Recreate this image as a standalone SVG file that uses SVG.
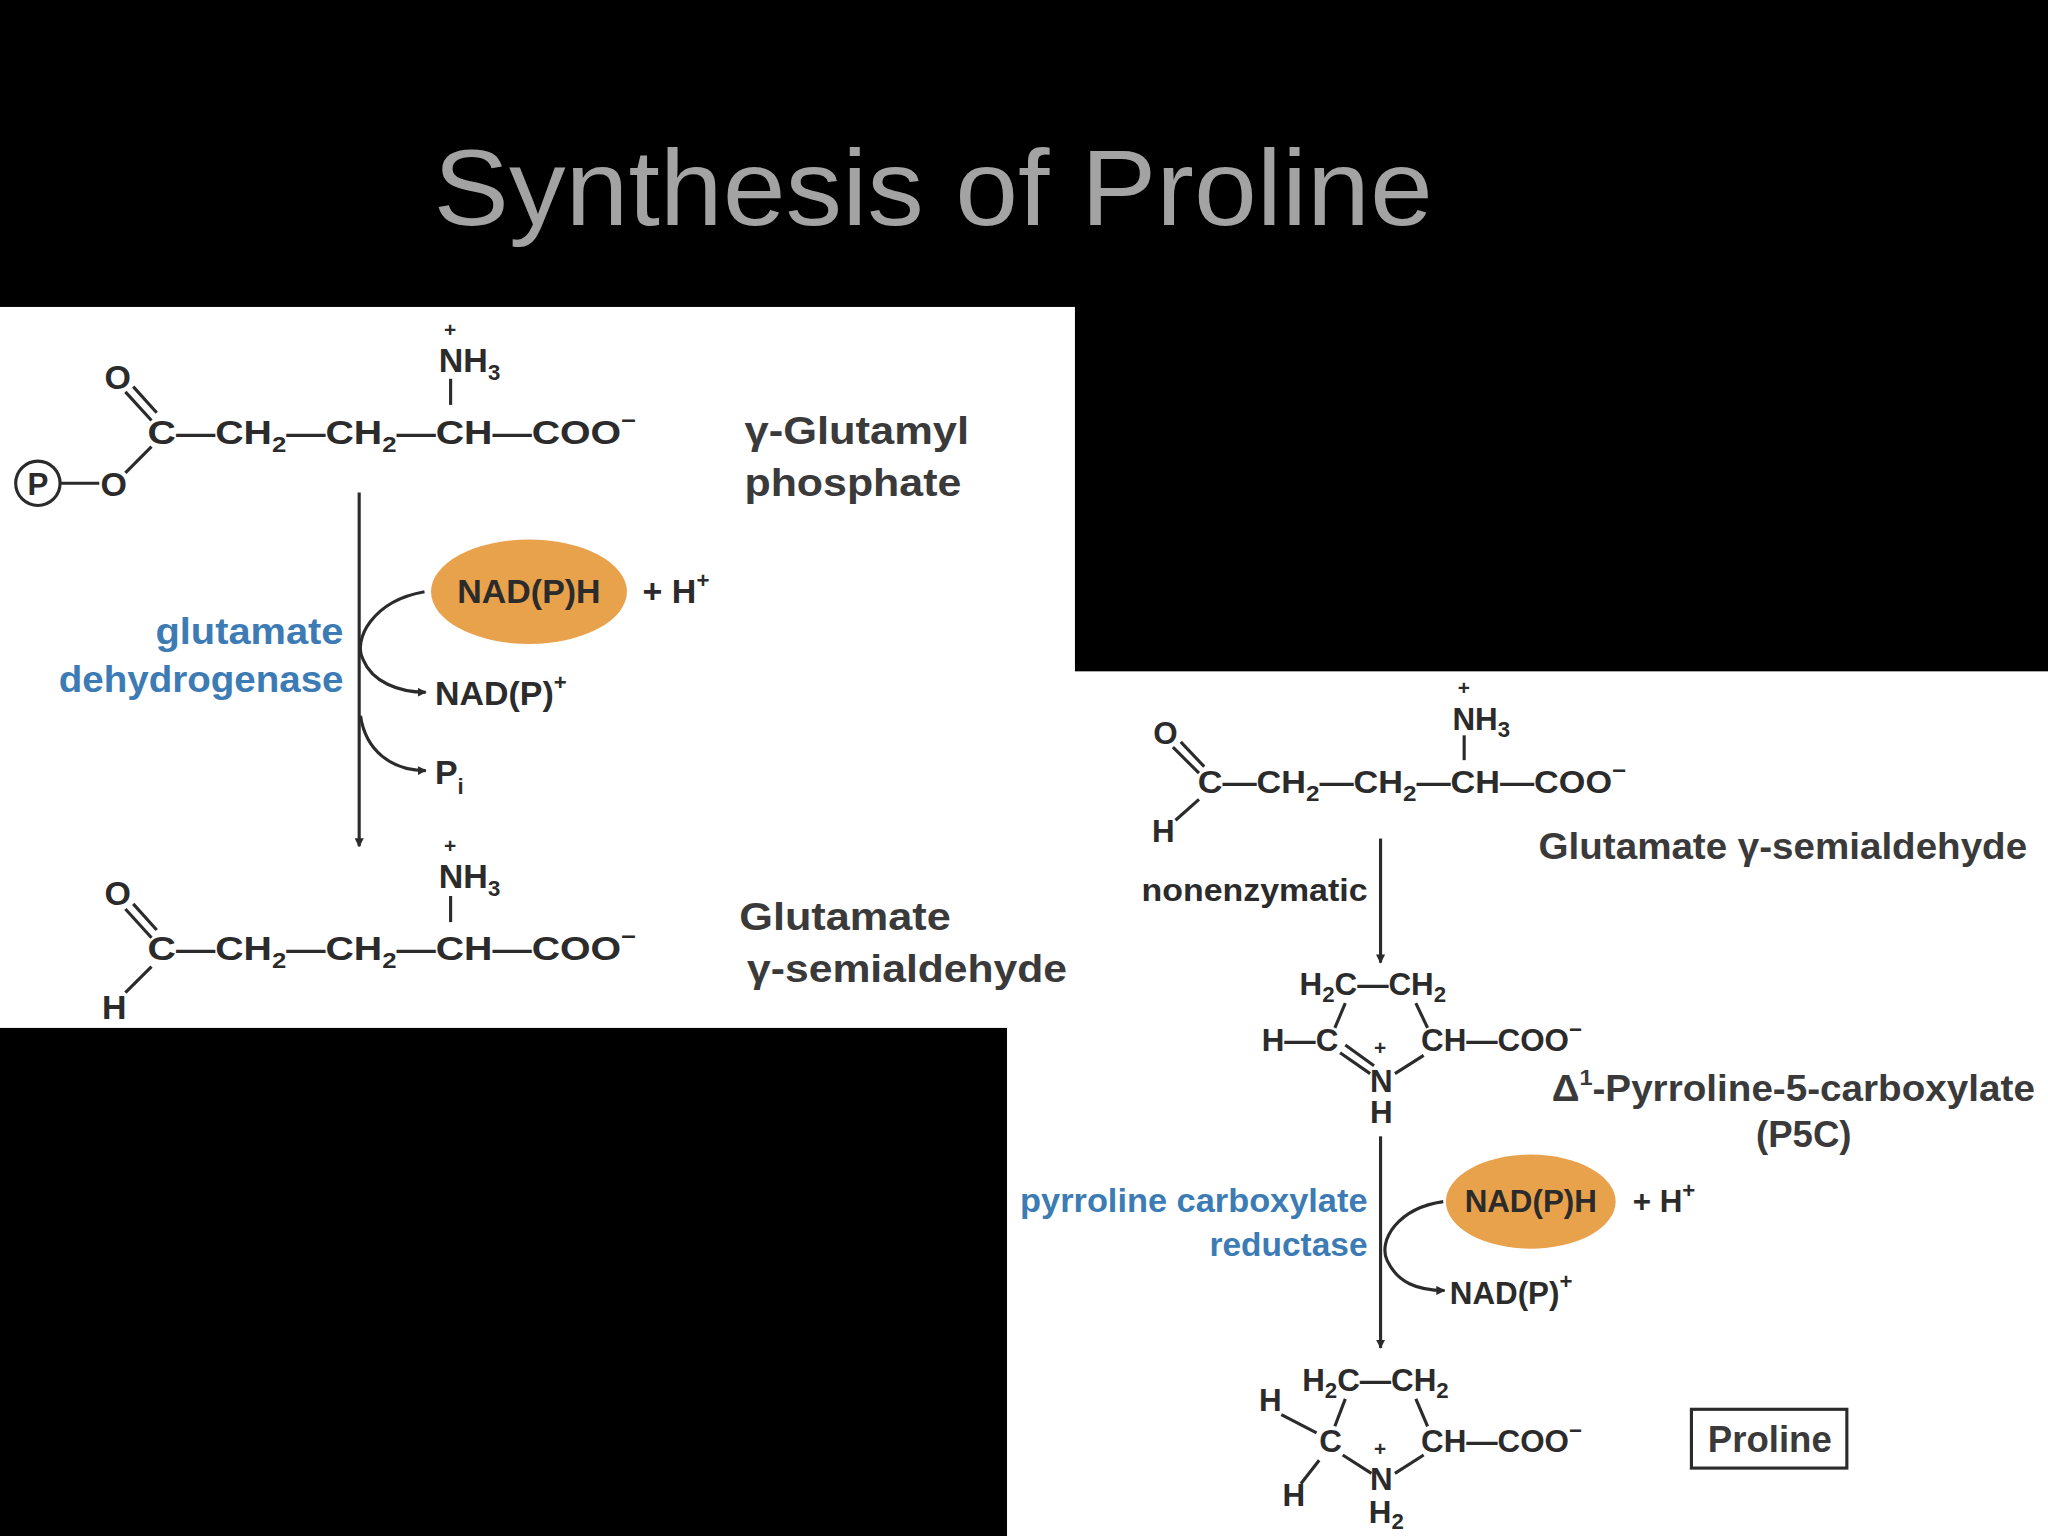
<svg xmlns="http://www.w3.org/2000/svg" width="2048" height="1536" viewBox="0 0 2048 1536">
<defs>
<style>
text{font-family:"Liberation Sans",Arial,sans-serif;font-weight:bold;fill:#2b2b2b}
.m{font-size:26px}
.s{font-size:24px}
.lab{font-size:30px;fill:#3a3a3a}
.blue{fill:#3d7bb5;font-size:28px}
.b{stroke:#2b2b2b;stroke-width:2.4;fill:none}
.sub{font-size:17px}
.pl{font-size:16px}
</style>
<marker id="ah" viewBox="0 0 10 10" refX="9" refY="5" markerWidth="7" markerHeight="7" orient="auto" markerUnits="userSpaceOnUse"><path d="M0,0L10,5L0,10z" fill="#2b2b2b"/></marker>
</defs>
<rect width="2048" height="1536" fill="#000"/>
<g transform="scale(1.30612)">
<text x="332" y="172" style="font-size:82px;font-weight:normal;fill:#a3a3a3" textLength="765" lengthAdjust="spacingAndGlyphs">Synthesis of Proline</text>
<rect x="0" y="235" width="823" height="552" fill="#fff"/>
<rect x="771" y="514" width="797" height="662" fill="#fff"/>

<g id="glutamyl-phosphate">
<text class="m" x="80" y="298">O</text>
<line class="b" x1="96" y1="300" x2="116" y2="322"/><line class="b" x1="102" y1="296" x2="120" y2="316"/>
<text class="m" x="113" y="340" textLength="374" lengthAdjust="spacingAndGlyphs">C—CH<tspan class="sub" dy="6">2</tspan><tspan dy="-6">—CH</tspan><tspan class="sub" dy="6">2</tspan><tspan dy="-6">—CH—COO</tspan><tspan class="sub" dy="-12">−</tspan></text>
<text class="pl" x="340" y="258">+</text>
<text class="m" x="336" y="285">NH<tspan class="sub" dy="6">3</tspan></text>
<line class="b" x1="345" y1="290" x2="345" y2="310"/>
<line class="b" x1="116" y1="342" x2="96" y2="362"/>
<circle cx="29" cy="370" r="17" class="b"/>
<text class="s" x="21" y="379">P</text>
<line class="b" x1="46" y1="370" x2="76" y2="370"/>
<text class="m" x="77" y="380">O</text>
<text class="lab" x="570" y="340" textLength="172" lengthAdjust="spacingAndGlyphs">γ-Glutamyl</text>
<text class="lab" x="570" y="380" textLength="166" lengthAdjust="spacingAndGlyphs">phosphate</text>
</g>

<g id="connectors">
<line class="b" x1="275" y1="377" x2="275" y2="648" marker-end="url(#ah)"/>
<path class="b" d="M325,453 C285,460 270,490 278,505 C285,522 305,530 326,530" marker-end="url(#ah)"/>
<path class="b" d="M276,548 C280,575 300,590 326,590" marker-end="url(#ah)"/>
<line class="b" x1="1057" y1="642" x2="1057" y2="737" marker-end="url(#ah)"/>
<line class="b" x1="1057" y1="870" x2="1057" y2="1032" marker-end="url(#ah)"/>
<path class="b" d="M1105,920 C1070,925 1055,950 1062,965 C1070,982 1085,988 1106,988" marker-end="url(#ah)"/>
</g>

<g id="glutamate-dehydrogenase">
<ellipse cx="405" cy="453" rx="75" ry="40" fill="#e9a24c"/>
<text class="m" x="405" y="462" text-anchor="middle">NAD(P)H</text>
<text class="m" x="492" y="462">+ H<tspan class="sub" dy="-12">+</tspan></text>
<text class="m" x="333" y="540">NAD(P)<tspan class="sub" dy="-12">+</tspan></text>
<text class="m" x="333" y="600">P<tspan class="sub" dy="8">i</tspan></text>
<text class="blue" x="263" y="493" text-anchor="end" textLength="144" lengthAdjust="spacingAndGlyphs">glutamate</text>
<text class="blue" x="263" y="530" text-anchor="end" textLength="218" lengthAdjust="spacingAndGlyphs">dehydrogenase</text>
</g>

<g id="glutamate-semialdehyde-left">
<text class="m" x="80" y="693">O</text>
<line class="b" x1="96" y1="696" x2="116" y2="718"/><line class="b" x1="102" y1="692" x2="120" y2="712"/>
<text class="m" x="113" y="735" textLength="374" lengthAdjust="spacingAndGlyphs">C—CH<tspan class="sub" dy="6">2</tspan><tspan dy="-6">—CH</tspan><tspan class="sub" dy="6">2</tspan><tspan dy="-6">—CH—COO</tspan><tspan class="sub" dy="-12">−</tspan></text>
<text class="pl" x="340" y="653">+</text>
<text class="m" x="336" y="680">NH<tspan class="sub" dy="6">3</tspan></text>
<line class="b" x1="345" y1="686" x2="345" y2="706"/>
<line class="b" x1="116" y1="740" x2="96" y2="760"/>
<text class="m" x="78" y="780">H</text>
<text class="lab" x="566" y="712" textLength="162" lengthAdjust="spacingAndGlyphs">Glutamate</text>
<text class="lab" x="572" y="752" textLength="245" lengthAdjust="spacingAndGlyphs">γ-semialdehyde</text>
</g>

<g id="glutamate-semialdehyde-right">
<text class="s" x="883" y="570">O</text>
<line class="b" x1="898" y1="572" x2="918" y2="592"/><line class="b" x1="904" y1="568" x2="922" y2="587"/>
<text class="s" x="917" y="607" textLength="328" lengthAdjust="spacingAndGlyphs">C—CH<tspan class="sub" dy="6">2</tspan><tspan dy="-6">—CH</tspan><tspan class="sub" dy="6">2</tspan><tspan dy="-6">—CH—COO</tspan><tspan class="sub" dy="-11">−</tspan></text>
<text class="pl" x="1116" y="532">+</text>
<text class="s" x="1112" y="559">NH<tspan class="sub" dy="5">3</tspan></text>
<line class="b" x1="1121" y1="563" x2="1121" y2="582"/>
<line class="b" x1="918" y1="612" x2="900" y2="628"/>
<text class="s" x="882" y="645">H</text>
<text class="lab" x="1178" y="658" style="font-size:28px" textLength="374" lengthAdjust="spacingAndGlyphs">Glutamate  γ-semialdehyde</text>
<text class="s" x="1047" y="690" text-anchor="end" textLength="173" lengthAdjust="spacingAndGlyphs">nonenzymatic</text>
</g>

<g id="p5c">
<text class="s" x="995" y="762">H<tspan class="sub" dy="5">2</tspan><tspan dy="-5">C—CH</tspan><tspan class="sub" dy="5">2</tspan></text>
<text class="s" x="966" y="805">H—C</text>
<text class="s" x="1088" y="805">CH—COO<tspan class="sub" dy="-11">−</tspan></text>
<text class="pl" x="1052" y="808">+</text>
<text class="s" x="1049" y="836">N</text>
<text class="s" x="1049" y="860">H</text>
<line class="b" x1="1030" y1="768" x2="1022" y2="787"/>
<line class="b" x1="1084" y1="768" x2="1093" y2="787"/>
<line class="b" x1="1026" y1="806" x2="1049" y2="822"/><line class="b" x1="1030" y1="800" x2="1052" y2="816"/>
<line class="b" x1="1090" y1="808" x2="1068" y2="822"/>
<text class="lab" x="1188" y="843" style="font-size:28px" textLength="370" lengthAdjust="spacingAndGlyphs">Δ<tspan class="sub" dy="-12">1</tspan><tspan dy="12">-Pyrroline-5-carboxylate</tspan></text>
<text class="lab" x="1381" y="878" text-anchor="middle" style="font-size:28px">(P5C)</text>
</g>

<g id="pyrroline-carboxylate-reductase">
<ellipse cx="1172" cy="920" rx="65" ry="36" fill="#e9a24c"/>
<text class="s" x="1172" y="928" text-anchor="middle">NAD(P)H</text>
<text class="s" x="1250" y="928">+ H<tspan class="sub" dy="-11">+</tspan></text>
<text class="s" x="1110" y="998">NAD(P)<tspan class="sub" dy="-11">+</tspan></text>
<text class="blue" x="1047" y="928" text-anchor="end" style="font-size:25px" textLength="266" lengthAdjust="spacingAndGlyphs">pyrroline carboxylate</text>
<text class="blue" x="1047" y="962" text-anchor="end" style="font-size:25px" textLength="121" lengthAdjust="spacingAndGlyphs">reductase</text>
</g>

<g id="proline">
<text class="s" x="997" y="1065">H<tspan class="sub" dy="5">2</tspan><tspan dy="-5">C—CH</tspan><tspan class="sub" dy="5">2</tspan></text>
<text class="s" x="964" y="1080">H</text>
<text class="s" x="1010" y="1112">C</text>
<text class="s" x="1088" y="1112">CH—COO<tspan class="sub" dy="-11">−</tspan></text>
<text class="s" x="982" y="1153">H</text>
<text class="pl" x="1052" y="1115">+</text>
<text class="s" x="1049" y="1141">N</text>
<text class="s" x="1048" y="1166">H<tspan class="sub" dy="5">2</tspan></text>
<line class="b" x1="981" y1="1083" x2="1008" y2="1097"/>
<line class="b" x1="1010" y1="1118" x2="996" y2="1136"/>
<line class="b" x1="1030" y1="1071" x2="1022" y2="1092"/>
<line class="b" x1="1084" y1="1071" x2="1093" y2="1092"/>
<line class="b" x1="1028" y1="1114" x2="1050" y2="1128"/>
<line class="b" x1="1090" y1="1114" x2="1068" y2="1128"/>
<rect x="1295" y="1079" width="119" height="45" class="b"/>
<text class="lab" x="1355" y="1112" text-anchor="middle" style="font-size:28px">Proline</text>
</g>
</g>
</svg>
